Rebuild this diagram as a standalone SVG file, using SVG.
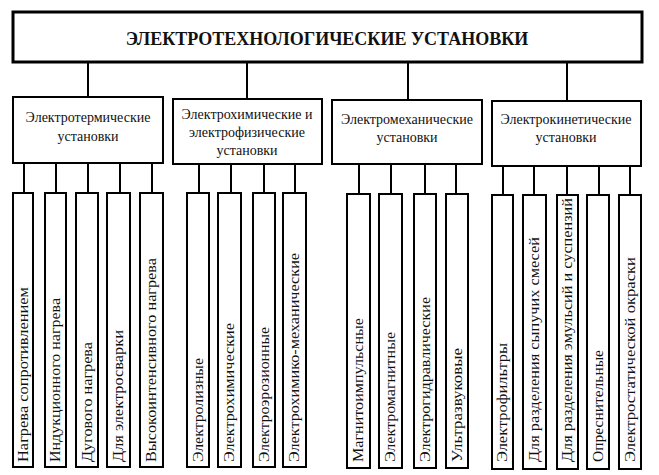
<svg xmlns="http://www.w3.org/2000/svg" width="659" height="475" viewBox="0 0 659 475">
<style>
rect{fill:#fff;stroke:#000;stroke-width:2}
.top{stroke-width:3}
line{stroke:#000;stroke-width:2}
text{font-family:"Liberation Serif",serif;fill:#111}
.t{font-size:18px;font-weight:bold;text-anchor:middle}
.c{font-size:14px;text-anchor:middle}
.v{font-size:15px}
</style>
<rect width="659" height="475" style="stroke:none"/>
<g id="connectors">
<line x1="88" y1="62" x2="88" y2="98"/><line x1="247" y1="62" x2="247" y2="99"/><line x1="408" y1="62" x2="408" y2="100"/><line x1="567" y1="62" x2="567" y2="101"/>
<line x1="24" y1="163" x2="24" y2="193"/><line x1="56" y1="163" x2="56" y2="193"/><line x1="88" y1="163" x2="88" y2="193"/><line x1="120" y1="163" x2="120" y2="193"/><line x1="152" y1="163" x2="152" y2="193"/>
<line x1="199" y1="164" x2="199" y2="193"/><line x1="231" y1="164" x2="231" y2="193"/><line x1="264" y1="164" x2="264" y2="193"/><line x1="295" y1="164" x2="295" y2="193"/>
<line x1="359" y1="164" x2="359" y2="194"/><line x1="391" y1="164" x2="391" y2="194"/><line x1="425" y1="164" x2="425" y2="194"/><line x1="456" y1="164" x2="456" y2="194"/>
<line x1="503" y1="166" x2="503" y2="195"/><line x1="534" y1="166" x2="534" y2="195"/><line x1="567" y1="166" x2="567" y2="195"/><line x1="599" y1="166" x2="599" y2="195"/><line x1="630" y1="166" x2="630" y2="195"/>
</g>
<g id="root"><rect class="top" x="13" y="12" width="629" height="50"/><text class="t" x="327" y="45">ЭЛЕКТРОТЕХНОЛОГИЧЕСКИЕ УСТАНОВКИ</text></g>
<g id="cat1"><rect x="13" y="97" width="150" height="66"/><text class="c" x="88" y="122">Электротермические</text><text class="c" x="88" y="141">установки</text></g>
<g id="cat2"><rect x="173" y="99" width="149" height="65"/><text class="c" x="247" y="119">Электрохимические и</text><text class="c" x="247" y="137">электрофизические</text><text class="c" x="247" y="155">установки</text></g>
<g id="cat3"><rect x="332" y="100" width="150" height="64"/><text class="c" x="407" y="124">Электромеханические</text><text class="c" x="407" y="142">установки</text></g>
<g id="cat4"><rect x="492" y="101" width="149" height="65"/><text class="c" x="566" y="124">Электрокинетические</text><text class="c" x="566" y="142">установки</text></g>
<g id="n1"><rect x="13" y="193" width="20" height="274"/><text class="v" transform="translate(28,462) rotate(-90)" textLength="175" lengthAdjust="spacingAndGlyphs">Нагрева сопротивлением</text></g>
<g id="n2"><rect x="45" y="193" width="21" height="274"/><text class="v" transform="translate(60,462) rotate(-90)" textLength="164" lengthAdjust="spacingAndGlyphs">Индукционного нагрева</text></g>
<g id="n3"><rect x="76" y="193" width="22" height="274"/><text class="v" transform="translate(92,462) rotate(-90)" textLength="120" lengthAdjust="spacingAndGlyphs">Дугового нагрева</text></g>
<g id="n4"><rect x="107" y="193" width="23" height="274"/><text class="v" transform="translate(123,462) rotate(-90)" textLength="132" lengthAdjust="spacingAndGlyphs">Для электросварки</text></g>
<g id="n5"><rect x="140" y="193" width="23" height="274"/><text class="v" transform="translate(156,462) rotate(-90)" textLength="204" lengthAdjust="spacingAndGlyphs">Высокоинтенсивного нагрева</text></g>
<g id="n6"><rect x="187" y="193" width="22" height="274"/><text class="v" transform="translate(203,462) rotate(-90)" textLength="104" lengthAdjust="spacingAndGlyphs">Электролизные</text></g>
<g id="n7"><rect x="218" y="193" width="23" height="274"/><text class="v" transform="translate(234,462) rotate(-90)" textLength="139" lengthAdjust="spacingAndGlyphs">Электрохимические</text></g>
<g id="n8"><rect x="253" y="193" width="22" height="274"/><text class="v" transform="translate(269,462) rotate(-90)" textLength="135" lengthAdjust="spacingAndGlyphs">Электроэрозионные</text></g>
<g id="n9"><rect x="283" y="193" width="23" height="274"/><text class="v" transform="translate(299,462) rotate(-90)" textLength="209" lengthAdjust="spacingAndGlyphs">Электрохимико-механические</text></g>
<g id="n10"><rect x="347" y="194" width="23" height="274"/><text class="v" transform="translate(363,462) rotate(-90)" textLength="144" lengthAdjust="spacingAndGlyphs">Магнитоимпульсные</text></g>
<g id="n11"><rect x="379" y="194" width="23" height="274"/><text class="v" transform="translate(395,462) rotate(-90)" textLength="130" lengthAdjust="spacingAndGlyphs">Электромагнитные</text></g>
<g id="n12"><rect x="414" y="194" width="22" height="274"/><text class="v" transform="translate(430,462) rotate(-90)" textLength="165" lengthAdjust="spacingAndGlyphs">Электрогидравлические</text></g>
<g id="n13"><rect x="446" y="194" width="22" height="274"/><text class="v" transform="translate(462,462) rotate(-90)" textLength="114" lengthAdjust="spacingAndGlyphs">Ультразвуковые</text></g>
<g id="n14"><rect x="492" y="195" width="21" height="274"/><text class="v" transform="translate(507,462) rotate(-90)" textLength="119" lengthAdjust="spacingAndGlyphs">Электрофильтры</text></g>
<g id="n15"><rect x="523" y="195" width="23" height="274"/><text class="v" transform="translate(539,462) rotate(-90)" textLength="225" lengthAdjust="spacingAndGlyphs">Для разделения сыпучих смесей</text></g>
<g id="n16"><rect x="557" y="195" width="21" height="274"/><text class="v" transform="translate(572,462) rotate(-90)" textLength="264" lengthAdjust="spacingAndGlyphs">Для разделения эмульсий и суспензий</text></g>
<g id="n17"><rect x="587" y="195" width="22" height="274"/><text class="v" transform="translate(603,462) rotate(-90)" textLength="112" lengthAdjust="spacingAndGlyphs">Опреснительные</text></g>
<g id="n18"><rect x="619" y="195" width="22" height="274"/><text class="v" transform="translate(635,462) rotate(-90)" textLength="205" lengthAdjust="spacingAndGlyphs">Электростатической окраски</text></g>
</svg>
